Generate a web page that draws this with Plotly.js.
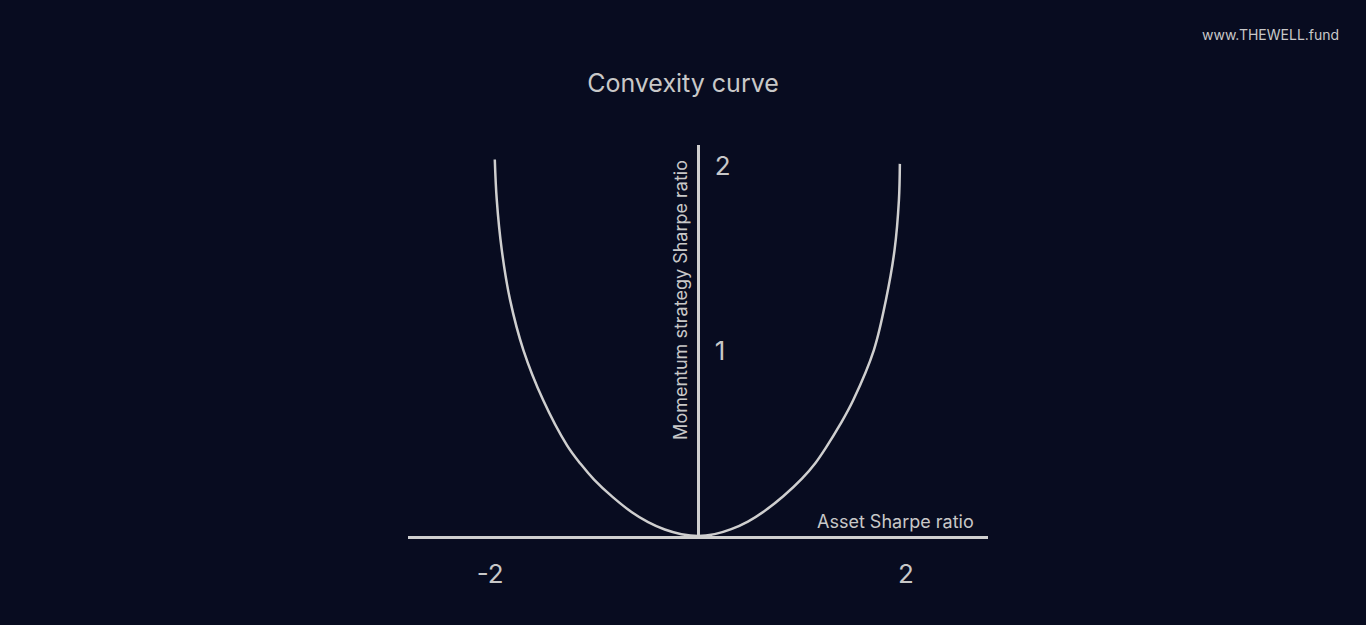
<!DOCTYPE html>
<html>
<head>
<meta charset="utf-8">
<script src="https://cdn.plot.ly/plotly-3.0.1.min.js"></script>
<style>
  html, body { margin: 0; padding: 0; background: #080c20; }
  #chart { width: 1366px; height: 625px; }
</style>
</head>
<body>
<div id="chart"></div>
<script>
// Curve
const assetSharpe = [-1.955, -1.936, -1.888, -1.808, -1.68, -1.49, -1.26, -1.13, -1.0, -0.82, -0.64, -0.48, -0.32, -0.16, 0,
                     0.16, 0.32, 0.48, 0.64, 0.82, 1.0, 1.13, 1.237, 1.365, 1.494, 1.692, 1.808, 1.891, 1.933, 1.942];
const momentumSharpe = [2.035, 1.816, 1.546, 1.276, 1.005, 0.735, 0.49, 0.39, 0.305, 0.21, 0.13, 0.075, 0.035, 0.01, 0,
                        0.01, 0.037, 0.078, 0.135, 0.215, 0.31, 0.395, 0.483, 0.6, 0.735, 1.005, 1.276, 1.546, 1.816, 2.011];
const xTickVals = [-2, 2];
const xTickText = ['-2', '2'];
const yTickVals = [1, 2];
const yTickText = ['1', '2'];

const fg = '#cfcfcf';
const txt = '#c8c8c8';
const font = 'Inter, "Noto Sans", sans-serif';

const trace = {
  x: assetSharpe,
  y: momentumSharpe,
  type: 'scatter',
  mode: 'lines',
  line: { color: fg, width: 2.5, shape: 'spline', smoothing: 1 },
  hoverinfo: 'skip'
};

const layout = {
  width: 1366,
  height: 625,
  paper_bgcolor: '#080c20',
  plot_bgcolor: '#080c20',
  margin: { l: 408, r: 378, t: 145, b: 89, pad: 0 },
  showlegend: false,
  font: { family: font, color: txt },
  title: {
    text: 'Convexity curve',
    x: 0.5, xref: 'container', xanchor: 'center',
    y: 1 - 83 / 625, yref: 'container', yanchor: 'middle',
    font: { size: 25, color: txt, family: font }
  },
  xaxis: {
    range: [-2.79, 2.79],
    tickvals: xTickVals,
    ticktext: xTickText,
    ticks: '',
    showline: true,
    linecolor: fg,
    linewidth: 2.5,
    showgrid: false,
    zeroline: false,
    tickfont: { size: 26, color: txt, family: font },
    ticklabelstandoff: 13,
    fixedrange: true
  },
  yaxis: {
    range: [0, 2.113],
    tickvals: yTickVals,
    ticktext: yTickText,
    ticks: '',
    anchor: 'free',
    position: 0.5,
    side: 'right',
    showline: true,
    linecolor: fg,
    linewidth: 2.5,
    showgrid: false,
    zeroline: false,
    tickfont: { size: 26, color: txt, family: font },
    ticklabelstandoff: 10,
    fixedrange: true
  },
  annotations: [
    {
      text: 'Momentum strategy Sharpe ratio',
      xref: 'x', yref: 'y',
      x: 0, y: 1.276,
      xanchor: 'center', yanchor: 'middle',
      xshift: -17,
      textangle: -90,
      showarrow: false,
      font: { size: 18, color: txt, family: font }
    },
    {
      text: 'Asset Sharpe ratio',
      xref: 'x', yref: 'y',
      x: 2.67, y: 0.076,
      xanchor: 'right', yanchor: 'middle',
      showarrow: false,
      font: { size: 18, color: txt, family: font }
    },
    {
      text: 'www.THEWELL.fund',
      xref: 'paper', yref: 'paper',
      x: (1341 - 408) / 580, y: (536 - 34) / 391,
      xanchor: 'right', yanchor: 'middle',
      showarrow: false,
      font: { size: 14, color: txt, family: font }
    }
  ]
};

Plotly.newPlot('chart', [trace], layout, { displayModeBar: false, staticPlot: true });
</script>
</body>
</html>
